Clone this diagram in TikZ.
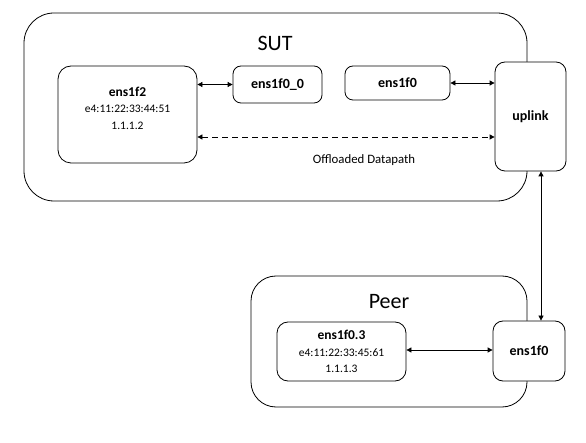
\documentclass[tikz,border=0pt]{standalone}
\usepackage{fontspec}
\setmainfont{Carlito}
\usetikzlibrary{arrows.meta}
\usetikzlibrary{positioning}
\usetikzlibrary{calc}
\tikzset{
    % Small solid heads, as on the reference
    >={Triangle[length=5pt,width=5pt]},
%
    % The large frame round each machine
    host frame/.style={draw, line width=0.8pt, fill=white,
        rounded corners=#1},
    host frame/.default=28pt,
%
    % A network port inside a machine
    port box/.style={draw, line width=0.8pt, fill=white,
        rounded corners=8pt, font=\fontsize{14}{17}\selectfont\bfseries},
%
    % The name of a machine
    host label/.style={font=\fontsize{22}{26}\selectfont},
%
    % Port details: name, MAC and address
    port details/.style={align=center, font=\fontsize{11.5}{16.5}\selectfont},
%
    % All links carry traffic both ways
    link/.style={<->, line width=0.8pt}}
\newcommand{\portname}[1]{{\fontsize{13.5}{16.5}\selectfont\bfseries #1}}

\begin{document}
\begin{tikzpicture}[x=1pt, y=-1pt]

\useasboundingbox (0,0) rectangle (586,443);

% System under test
\node [host frame=30pt, minimum width=503pt, minimum height=188pt]
    (sut) at (275.5,107) {};
\node [host label] (sut label) at (275,43) {SUT};

\node [port box, rounded corners=13pt,
    minimum width=139pt, minimum height=97pt] (ens1f2) at (127.5,114.5) {};
\node [port details] (ens1f2 text) at ($(ens1f2.center)+(0,-6.5)$)
    {\portname{ens1f2}\\e4:11:22:33:44:51\\1.1.1.2};

\node [port box, minimum width=89pt, minimum height=37pt]
    (ens1f0 0) at (277.5,84.5) {ens1f0\_0};
\node [port box, minimum width=105pt, minimum height=34pt]
    (sut ens1f0) at (397.5,83) {ens1f0};
\node [port box, rounded corners=10pt,
    minimum width=71pt, minimum height=109pt] (uplink) at (530.5,116.5) {uplink};

\draw[link] (ens1f0 0.west -| ens1f2.east) -- (ens1f0 0.west);
\draw[link] (sut ens1f0.east) -- (sut ens1f0.east -| uplink.west);

\coordinate (datapath) at ($(ens1f2.east)+(0,22.5)$);
\draw[link, dash pattern=on 6pt off 4pt] (datapath) -- (datapath -| uplink.west);
\node [font=\fontsize{12.8}{15}\selectfont] (datapath label) at (364,160)
    {Offloaded Datapath};

% Peer machine
\node [host frame=25pt, minimum width=276pt, minimum height=131pt]
    (peer) at (389,341.5) {};
\node [host label] (peer label) at (389,302) {Peer};

\node [port box, rounded corners=11pt,
    minimum width=129pt, minimum height=59pt] (ens1f0 3) at (341.5,351.5) {};
\node [port details] (ens1f0 3 text) at (ens1f0 3.center)
    {\portname{ens1f0.3}\\e4:11:22:33:45:61\\1.1.1.3};
\node [port box, rounded corners=10pt,
    minimum width=72pt, minimum height=60pt] (peer ens1f0) at (529,351) {ens1f0};

\coordinate (peer link) at ($(ens1f0 3.east)+(0,-1.5)$);
\draw[link] (peer link) -- (peer link -| peer ens1f0.west);

\coordinate (wire top) at ($(uplink.south)+(10.5,0)$);
\draw[link] (wire top) -- (wire top |- peer ens1f0.north);

\end{tikzpicture}
\end{document}
